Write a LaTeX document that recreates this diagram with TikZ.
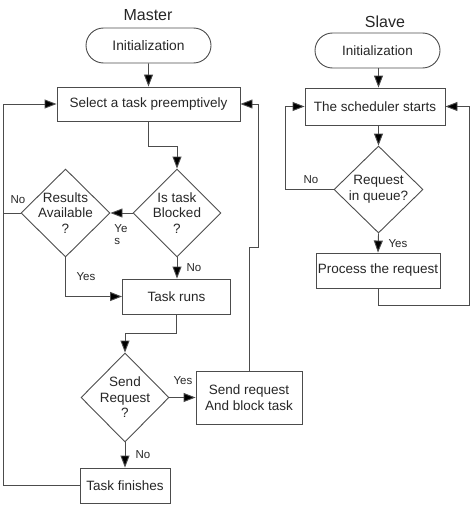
\documentclass[tikz,border=0pt]{standalone}
\usepackage{fontspec}
\setmainfont{Liberation Sans}
\usetikzlibrary{shapes.geometric,shapes.misc,arrows.meta}
\begin{document}
\begin{tikzpicture}[x=1pt,y=-1pt,
  lc/.style={draw=black!70,line width=0.9pt},
  boxn/.style={lc,rectangle,inner sep=0pt,align=center,font=\fontsize{13.5}{15.5}\selectfont,text=black!85},
  stad/.style={lc,rounded rectangle,inner sep=0pt,font=\fontsize{13.8}{16}\selectfont,text=black!85},
  diam/.style={lc,diamond,inner sep=0pt},
  dtxt/.style={align=center,font=\fontsize{13.5}{15.5}\selectfont,text=black!85,inner sep=0pt},
  arr/.style={draw=black!70,line width=0.9pt,-{Triangle[length=12pt,width=9pt,fill=black]}},
  ln/.style={draw=black!70,line width=0.9pt},
  lab/.style={font=\fontsize{11.5}{12}\selectfont,text=black!85,inner sep=0pt,align=left},
  ttl/.style={font=\fontsize{16}{18}\selectfont,text=black!85,inner sep=0pt}
]
\useasboundingbox (0,0) rectangle (474,511);
% Master
\node[ttl] (mt) at (148,15) {Master};
\node[stad,minimum width=125pt,minimum height=35pt] (mi) at (148.5,45.5) {Initialization};
\node[boxn,minimum width=183pt,minimum height=34pt] (sel) at (148.5,104) {Select a task preemptively};
\node[diam,minimum width=88pt,minimum height=88pt] (blk) at (177,213) {};
\node[dtxt] (blkt) at (blk.center) {Is task\\Blocked\\?};
\node[diam,minimum width=89pt,minimum height=88pt] (res) at (65.5,213) {};
\node[dtxt] (rest) at (res.center) {Results\\Available\\?};
\node[boxn,minimum width=108pt,minimum height=35pt] (run) at (176.5,296.5) {Task runs};
\node[diam,minimum width=88pt,minimum height=89pt] (snd) at (125,397.5) {};
\node[dtxt] (sndt) at (snd.center) {Send\\Request\\?};
\node[boxn,minimum width=106pt,minimum height=53pt] (req) at (249,397.5) {Send request\\And block task};
\node[boxn,minimum width=90pt,minimum height=35pt] (fin) at (125,485.5) {Task finishes};
\coordinate (lft) at (3,104);
\coordinate (rtc) at (258,247);
% Master connectors
\draw[arr] (mi) -- (sel);
\draw[arr] (sel.south) -- ++(0,25) -| (blk.north);
\draw[arr] (blk.west) -- (res.east);
\draw[ln] (res.west) -- (res.west -| lft);
\draw[arr] (fin.west) -| (lft) -- (sel.west);
\draw[arr] (res.south) |- (run.west);
\draw[arr] (blk.south) -- (blk.south |- run.north);
\draw[arr] (run.south) -- ++(0,19) -| (snd.north);
\draw[arr] (snd.east) -- (req.west);
\draw[arr] (req.north) |- (rtc) |- (sel.east);
\draw[arr] (snd.south) -- (fin.north);
% Master labels
\node[lab] (l1) at (18,200) {No};
\node[lab] (l2) at (121,235) {Ye\\s};
\node[lab] (l3) at (86,277) {Yes};
\node[lab] (l4) at (194,268) {No};
\node[lab] (l5) at (183,381) {Yes};
\node[lab] (l6) at (143,455) {No};
% Slave
\node[ttl] (st) at (385,22) {Slave};
\node[stad,minimum width=125pt,minimum height=35pt,font=\fontsize{13.5}{16}\selectfont] (si) at (377.5,50.5) {Initialization};
\node[boxn,minimum width=140pt,minimum height=37pt] (sch) at (375,106.5) {The scheduler starts};
\node[diam,minimum width=89pt,minimum height=87pt] (q) at (378.5,189.5) {};
\node[dtxt] (qt) at (q.center) {Request\\in queue?};
\node[boxn,minimum width=124pt,minimum height=35pt] (proc) at (378,270.5) {Process the request};
\coordinate (rc) at (469,305);
\draw[arr] (si.south -| q.north) -- (q.north |- sch.north);
\draw[arr] (q.north |- sch.south) -- (q.north);
\draw[arr] (q.west) -- ++(-48,0) |- (sch.west);
\draw[arr] (q.south) -- (proc.north);
\draw[arr] (proc.south) |- (rc) |- (sch.east);
\node[lab] (l7) at (311,180) {No};
\node[lab] (l8) at (398,244) {Yes};
\end{tikzpicture}
\end{document}
